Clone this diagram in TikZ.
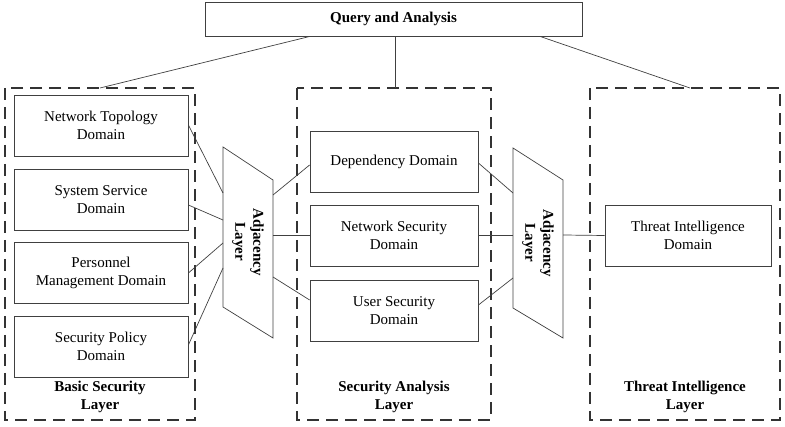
\documentclass[tikz,border=0pt]{standalone}
\usepackage{fontspec}
\setmainfont{Liberation Serif}
\begin{document}
\begin{tikzpicture}[x=1pt,y=-1pt,
 box/.style={draw=black!75,line width=0.8pt,align=center,font=\fontsize{15}{18}\selectfont,inner sep=0pt},
 dbox/.style={draw=black!80,line width=1.2pt,dash pattern=on 12pt off 7pt},
 lbl/.style={align=center,font=\bfseries\fontsize{15}{18}\selectfont},
 ln/.style={draw=black!75,line width=0.7pt}]
\useasboundingbox (0,0) rectangle (785,427);
\node[box,minimum width=377pt,minimum height=34pt,font=\bfseries\fontsize{15}{18}\selectfont] (q) at (393.5,19) {Query and Analysis};
\draw[dbox] (5,88) rectangle (195,420);
\draw[dbox] (297,88) rectangle (491,420);
\draw[dbox] (590,88) rectangle (780,420);
\coordinate (d1) at (100,88); \coordinate (d2) at (395,88); \coordinate (d3) at (690,88);
\draw[ln] (q.south -| 310,0) -- (d1);
\draw[ln] (q.south -| 395,0) -- (d2);
\draw[ln] (q.south -| 540,0) -- (d3);
\foreach \n/\y/\t in {a/125.5/{Network Topology\\Domain},b/199.5/{System Service\\Domain},c/272.5/{Personnel\\Management Domain},d/346.5/{Security Policy\\Domain}}
  \node[box,minimum width=174pt,minimum height=61pt] (\n) at (101,\y) {\t};
\foreach \n/\y/\t in {e/161.5/{Dependency Domain},f/235.5/{Network Security\\Domain},g/310.5/{User Security\\Domain}}
  \node[box,minimum width=168pt,minimum height=61pt] (\n) at (394,\y) {\t};
\node[box,minimum width=166pt,minimum height=61pt] (h) at (688,235.5) {Threat Intelligence\\Domain};
\draw[ln] (223,147) -- (273,180) -- (273,338) -- (223,307) -- cycle;
\draw[ln] (513,148) -- (563,180) -- (563,338) -- (513,308) -- cycle;
\node[lbl,rotate=-90] (A1) at (248,242) {Adjacency\\Layer};
\node[lbl,rotate=-90] (A2) at (538,243) {Adjacency\\Layer};
\coordinate (l1) at (223,193); \coordinate (l2) at (223,220);
\coordinate (l3) at (223,243); \coordinate (l4) at (223,268);
\draw[ln] (a.east |- 0,125) -- (l1);
\draw[ln] (b.east |- 0,205) -- (l2);
\draw[ln] (c.east |- 0,273) -- (l3);
\draw[ln] (d.east |- 0,345) -- (l4);
\draw[ln] (273,195) -- (e.west |- 0,165);
\draw[ln] (273,235) -- (f.west |- 0,235);
\draw[ln] (273,277) -- (g.west |- 0,300);
\draw[ln] (e.east |- 0,163) -- (513,193);
\draw[ln] (f.east |- 0,235) -- (513,235);
\draw[ln] (g.east |- 0,305) -- (513,278);
\draw[ln] (563,235) -- (h.west);
\node[lbl] (L1) at (100,397) {Basic Security\\Layer};
\node[lbl] (L2) at (394,397) {Security Analysis\\Layer};
\node[lbl] (L3) at (685,397) {Threat Intelligence\\Layer};
\end{tikzpicture}
\end{document}
